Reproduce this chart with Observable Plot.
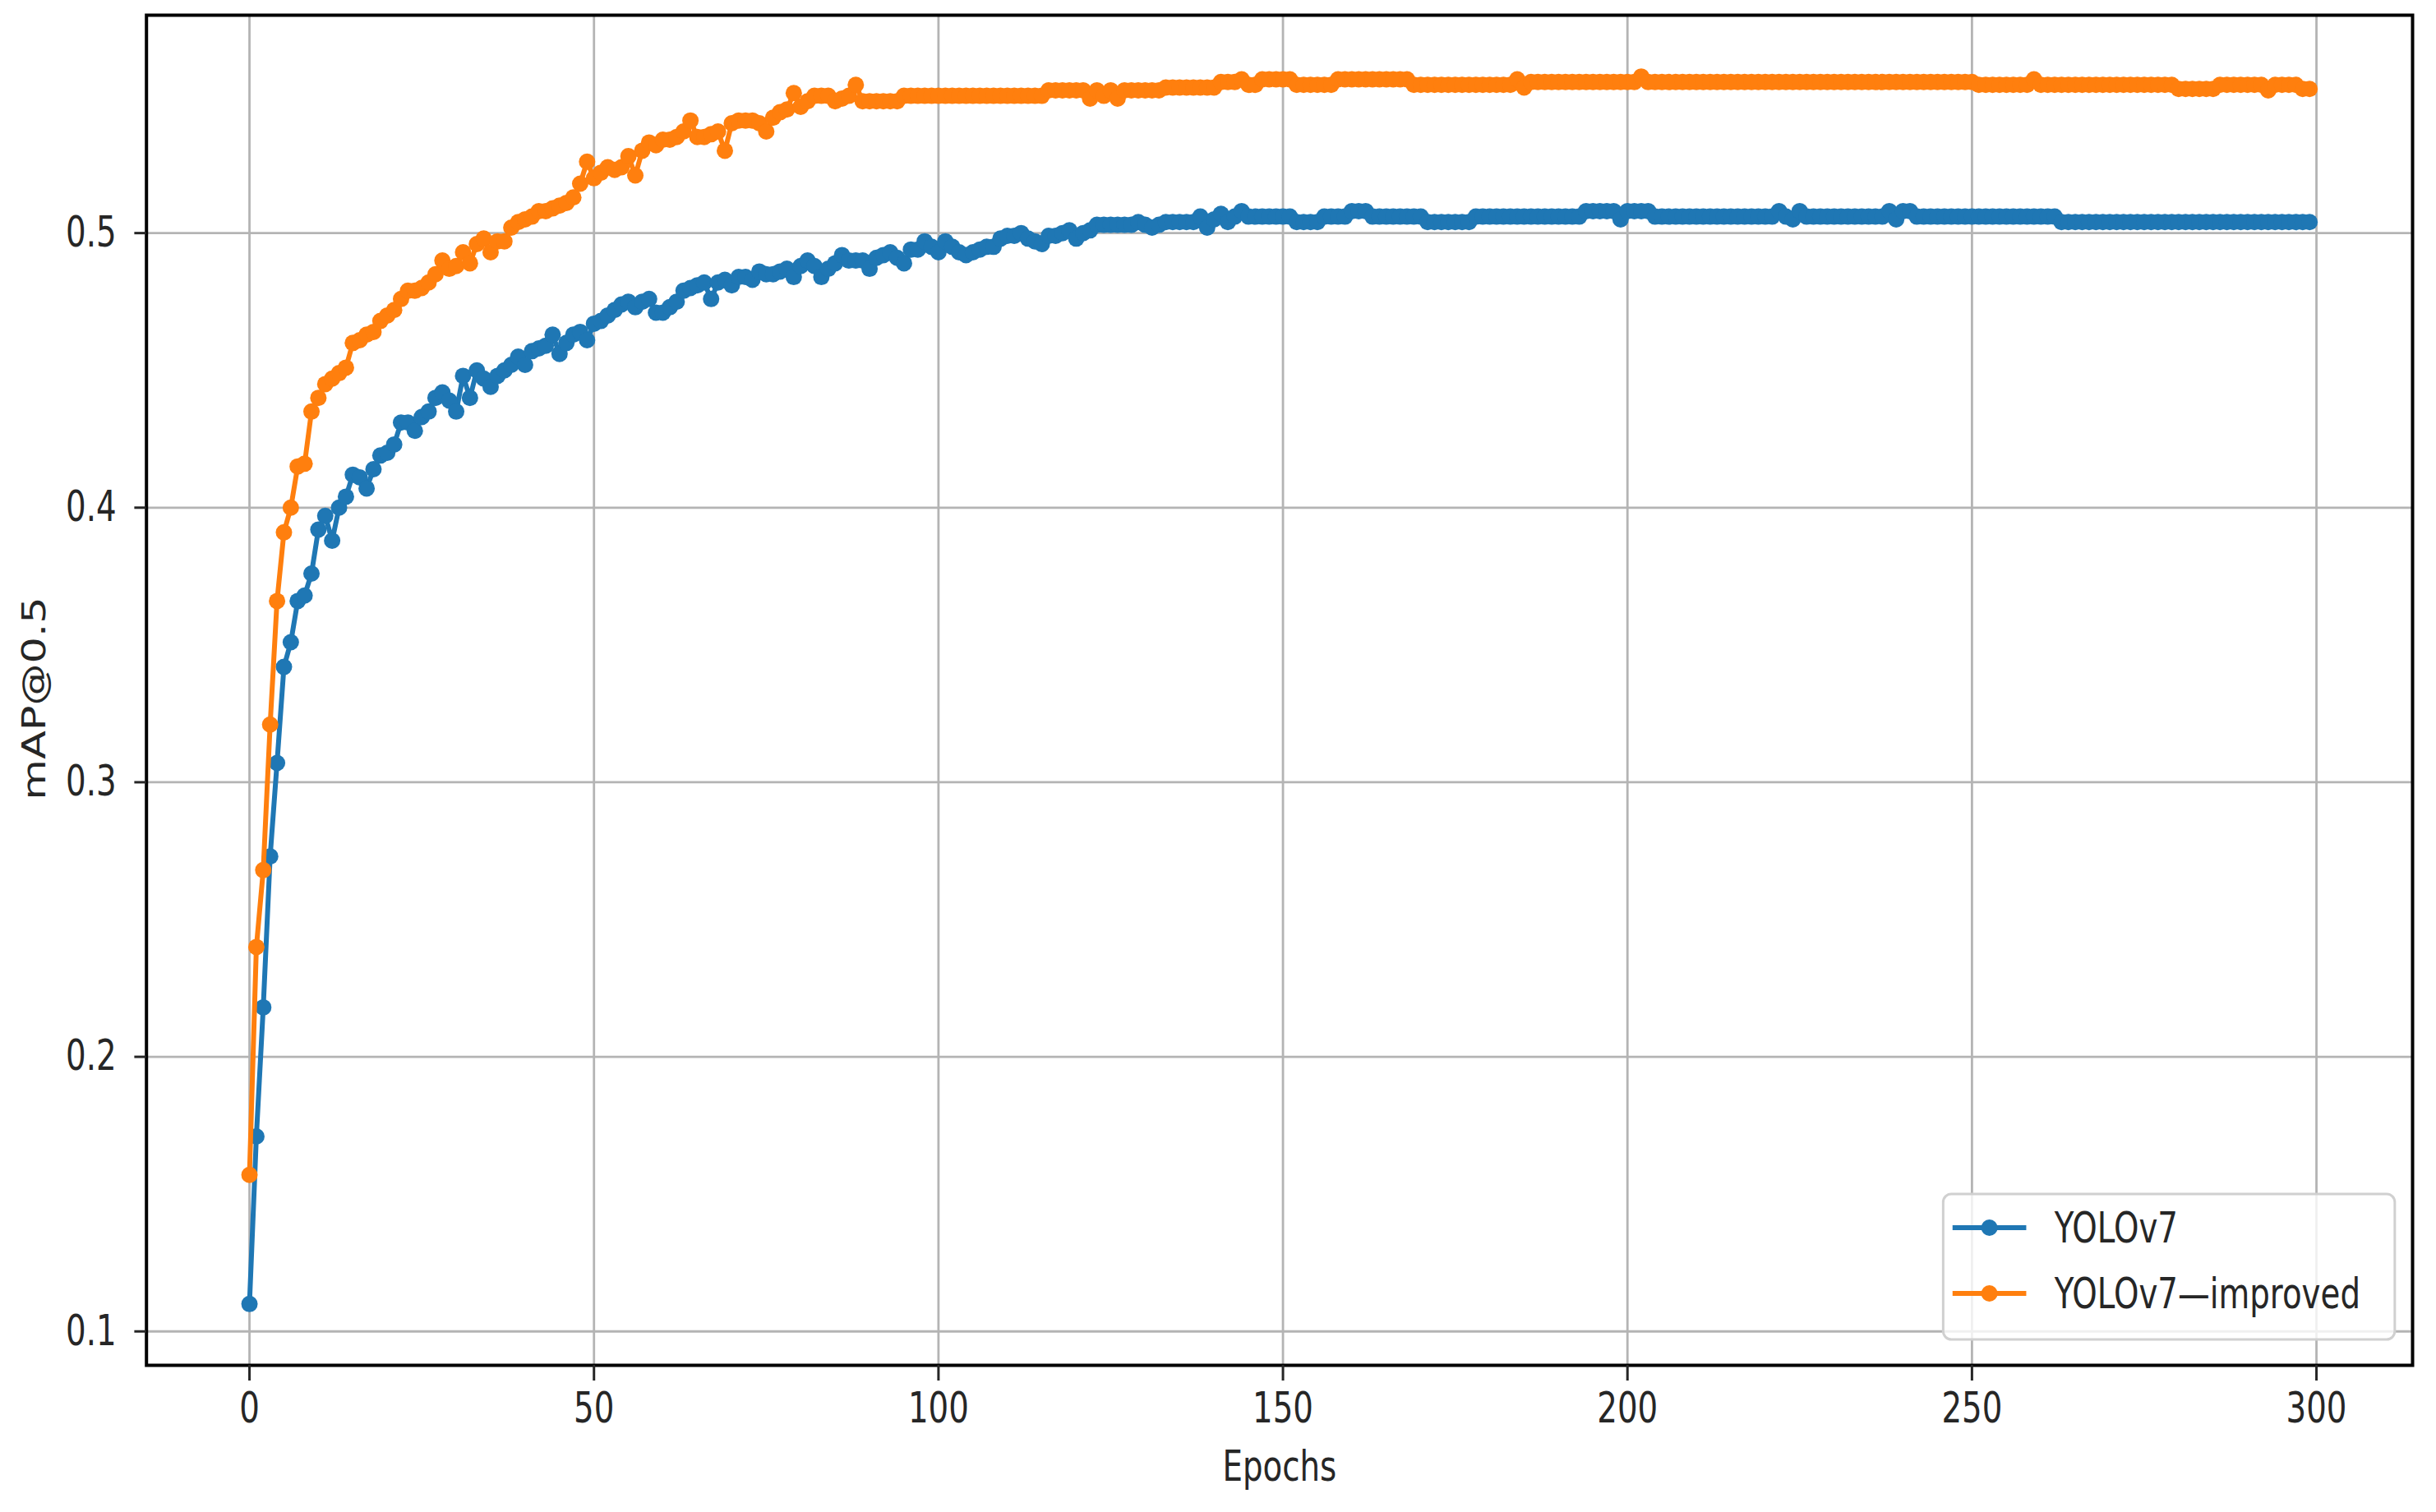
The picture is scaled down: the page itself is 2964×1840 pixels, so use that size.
<!DOCTYPE html>
<html>
<head>
<meta charset="utf-8">
<script src="https://cdn.jsdelivr.net/npm/d3@7"></script>
<script src="https://cdn.jsdelivr.net/npm/@observablehq/plot@0.6"></script>
<style>
  html, body { margin: 0; padding: 0; background: #ffffff; }
  #chart svg line, #chart svg path, #chart svg rect { vector-effect: non-scaling-stroke; }
  /* undo the horizontal squeeze on markers so they stay round, as in the reference */
  #chart svg circle { transform-box: fill-box; transform-origin: center; transform: scaleX(1.316); }
</style>
</head>
<body>
<div id="chart"></div>
<script>
// ---------------- data ----------------
const epochs = d3.range(0, 300);

const yolov7 = [
  0.110,0.171,0.218,0.273,0.307,0.342,0.351,0.366,0.368,0.376,
  0.392,0.397,0.388,0.400,0.404,0.412,0.411,0.407,0.414,0.419,
  0.420,0.423,0.431,0.431,0.428,0.433,0.435,0.440,0.442,0.439,
  0.435,0.448,0.440,0.450,0.447,0.444,0.448,0.450,0.452,0.455,
  0.452,0.457,0.458,0.459,0.463,0.456,0.460,0.463,0.464,0.461,
  0.467,0.468,0.470,0.472,0.474,0.475,0.473,0.475,0.476,0.471,
  0.471,0.473,0.475,0.479,0.480,0.481,0.482,0.476,0.482,0.483,
  0.481,0.484,0.484,0.483,0.486,0.485,0.485,0.486,0.487,0.484,
  0.488,0.490,0.488,0.484,0.487,0.489,0.492,0.490,0.490,0.490,
  0.487,0.491,0.492,0.493,0.491,0.489,0.494,0.494,0.497,0.495,
  0.493,0.497,0.495,0.493,0.492,0.493,0.494,0.495,0.495,0.498,
  0.499,0.499,0.500,0.498,0.497,0.496,0.499,0.499,0.500,0.501,
  0.498,0.500,0.501,0.503,0.503,0.503,0.503,0.503,0.503,0.504,
  0.503,0.502,0.503,0.504,0.504,0.504,0.504,0.504,0.506,0.502,
  0.505,0.507,0.504,0.506,0.508,0.506,0.506,0.506,0.506,0.506,
  0.506,0.506,0.504,0.504,0.504,0.504,0.506,0.506,0.506,0.506,
  0.508,0.508,0.508,0.506,0.506,0.506,0.506,0.506,0.506,0.506,
  0.506,0.504,0.504,0.504,0.504,0.504,0.504,0.504,0.506,0.506,
  0.506,0.506,0.506,0.506,0.506,0.506,0.506,0.506,0.506,0.506,
  0.506,0.506,0.506,0.506,0.508,0.508,0.508,0.508,0.508,0.505,
  0.508,0.508,0.508,0.508,0.506,0.506,0.506,0.506,0.506,0.506,
  0.506,0.506,0.506,0.506,0.506,0.506,0.506,0.506,0.506,0.506,
  0.506,0.506,0.508,0.506,0.505,0.508,0.506,0.506,0.506,0.506,
  0.506,0.506,0.506,0.506,0.506,0.506,0.506,0.506,0.508,0.505,
  0.508,0.508,0.506,0.506,0.506,0.506,0.506,0.506,0.506,0.506,
  0.506,0.506,0.506,0.506,0.506,0.506,0.506,0.506,0.506,0.506,
  0.506,0.506,0.506,0.504,0.504,0.504,0.504,0.504,0.504,0.504,
  0.504,0.504,0.504,0.504,0.504,0.504,0.504,0.504,0.504,0.504,
  0.504,0.504,0.504,0.504,0.504,0.504,0.504,0.504,0.504,0.504,
  0.504,0.504,0.504,0.504,0.504,0.504,0.504,0.504,0.504,0.504
];

const yolov7Improved = [
  0.157,0.240,0.268,0.321,0.366,0.391,0.400,0.415,0.416,0.435,
  0.440,0.445,0.447,0.449,0.451,0.460,0.461,0.463,0.464,0.468,
  0.470,0.472,0.476,0.479,0.479,0.480,0.482,0.485,0.490,0.487,
  0.488,0.493,0.489,0.496,0.498,0.493,0.497,0.497,0.502,0.504,
  0.505,0.506,0.508,0.508,0.509,0.510,0.511,0.513,0.518,0.526,
  0.520,0.522,0.524,0.523,0.524,0.528,0.521,0.530,0.533,0.532,
  0.534,0.534,0.535,0.537,0.541,0.535,0.535,0.536,0.537,0.530,
  0.540,0.541,0.541,0.541,0.540,0.537,0.542,0.544,0.545,0.551,
  0.546,0.548,0.550,0.550,0.550,0.548,0.549,0.550,0.554,0.548,
  0.548,0.548,0.548,0.548,0.548,0.550,0.550,0.550,0.550,0.550,
  0.550,0.550,0.550,0.550,0.550,0.550,0.550,0.550,0.550,0.550,
  0.550,0.550,0.550,0.550,0.550,0.550,0.552,0.552,0.552,0.552,
  0.552,0.552,0.549,0.552,0.550,0.552,0.549,0.552,0.552,0.552,
  0.552,0.552,0.552,0.553,0.553,0.553,0.553,0.553,0.553,0.553,
  0.553,0.555,0.555,0.555,0.556,0.554,0.554,0.556,0.556,0.556,
  0.556,0.556,0.554,0.554,0.554,0.554,0.554,0.554,0.556,0.556,
  0.556,0.556,0.556,0.556,0.556,0.556,0.556,0.556,0.556,0.554,
  0.554,0.554,0.554,0.554,0.554,0.554,0.554,0.554,0.554,0.554,
  0.554,0.554,0.554,0.554,0.556,0.553,0.555,0.555,0.555,0.555,
  0.555,0.555,0.555,0.555,0.555,0.555,0.555,0.555,0.555,0.555,
  0.555,0.555,0.557,0.555,0.555,0.555,0.555,0.555,0.555,0.555,
  0.555,0.555,0.555,0.555,0.555,0.555,0.555,0.555,0.555,0.555,
  0.555,0.555,0.555,0.555,0.555,0.555,0.555,0.555,0.555,0.555,
  0.555,0.555,0.555,0.555,0.555,0.555,0.555,0.555,0.555,0.555,
  0.555,0.555,0.555,0.555,0.555,0.555,0.555,0.555,0.555,0.555,
  0.555,0.554,0.554,0.554,0.554,0.554,0.554,0.554,0.554,0.556,
  0.554,0.554,0.554,0.554,0.554,0.554,0.554,0.554,0.554,0.554,
  0.554,0.554,0.554,0.554,0.554,0.554,0.554,0.554,0.554,0.554,
  0.5525,0.5525,0.5525,0.5525,0.5525,0.5525,0.554,0.554,0.554,0.554,
  0.554,0.554,0.554,0.552,0.554,0.554,0.554,0.554,0.5525,0.5525
];

const seriesNames = ["YOLOv7", "YOLOv7\u2014improved"];
const seriesColors = ["#1f77b4", "#ff7f0e"];
const seriesValues = [yolov7, yolov7Improved];

const xTicks = [0, 50, 100, 150, 200, 250, 300];
const yTicks = [0.1, 0.2, 0.3, 0.4, 0.5];
const xLabel = "Epochs";
const yLabel = "mAP@0.5";

// ---------------- layout ----------------
const OUT_W = 2964, OUT_H = 1840;
const SQUEEZE = 0.76;                 // reference figure is horizontally compressed
const W = Math.round(OUT_W / SQUEEZE);
const M = {left: 234, right: 38, top: 18, bottom: 179};
const FONT = 51;
const LINE_W = 6;
const DOT_R = 10;

// long table built from the named arrays
const data = seriesNames.flatMap((name, s) =>
  epochs.map((e, i) => ({series: name, epoch: e, value: seriesValues[s][i]})));

// matplotlib-like 5% margins
const padExtent = (arr) => {
  const [a, b] = d3.extent(arr);
  const p = (b - a) * 0.05;
  return [a - p, b + p];
};
const xDomain = padExtent(epochs);
const yDomain = padExtent(data.map(d => d.value));

const seriesMarks = seriesNames.flatMap((name) => {
  const rows = data.filter(d => d.series === name);
  return [
    Plot.line(rows, {x: "epoch", y: "value", stroke: "series", strokeWidth: LINE_W}),
    Plot.dot(rows, {x: "epoch", y: "value", fill: "series", r: DOT_R})
  ];
});

const chart = Plot.plot({
  width: W,
  height: OUT_H,
  marginLeft: M.left,
  marginRight: M.right,
  marginTop: M.top,
  marginBottom: M.bottom,
  style: {fontFamily: "'DejaVu Sans', sans-serif", fontSize: FONT + "px", color: "#262626", background: "#ffffff", overflow: "visible"},
  x: {domain: xDomain},
  y: {domain: yDomain},
  color: {domain: seriesNames, range: seriesColors},
  marks: [
    Plot.gridX(xTicks, {stroke: "#b4b4b4", strokeOpacity: 1, strokeWidth: 2.8}),
    Plot.gridY(yTicks, {stroke: "#b4b4b4", strokeOpacity: 1, strokeWidth: 2.8}),
    ...seriesMarks,
    Plot.frame({stroke: "#000000", strokeWidth: 4}),
    Plot.axisX({ticks: xTicks, tickSize: 19, tickPadding: 14, strokeWidth: 3, label: null, fontSize: FONT}),
    Plot.axisY({ticks: yTicks, tickSize: 19, tickPadding: 29, strokeWidth: 3, label: null, fontSize: FONT, tickFormat: d3.format(".1f")}),
    Plot.text([xLabel], {text: d => d, frameAnchor: "bottom", textAnchor: "middle", dy: 140, fontSize: FONT, fill: "#262626"}),
    Plot.text([yLabel], {text: d => d, frameAnchor: "left", textAnchor: "middle", dx: -179, dy: 10, rotate: -90, fontSize: FONT, fill: "#262626"})
  ]
});

// squeeze horizontally like the reference image
chart.setAttribute("width", OUT_W);
chart.setAttribute("height", OUT_H);
chart.setAttribute("preserveAspectRatio", "none");
chart.style.width = OUT_W + "px";
chart.style.height = OUT_H + "px";
chart.style.maxWidth = "none";

// legend (lower right, inside the axes)
const frameRight = W - M.right, frameBottom = OUT_H - M.bottom;
const boxW = 723, boxH = 177;
const boxX = frameRight - 28 - boxW, boxY = frameBottom - 31 - boxH;
const leg = d3.select(chart).append("g").attr("class", "legend");
leg.append("rect")
  .attr("x", boxX).attr("y", boxY).attr("width", boxW).attr("height", boxH)
  .attr("rx", 13).attr("ry", 10)
  .attr("fill", "#ffffff").attr("fill-opacity", 0.8)
  .attr("stroke", "#d0d0d0").attr("stroke-width", 3);
seriesNames.forEach((name, i) => {
  const cy = boxY + 41 + i * 80;
  const x0 = boxX + 15;
  leg.append("line")
    .attr("x1", x0).attr("x2", x0 + 118).attr("y1", cy).attr("y2", cy)
    .attr("stroke", seriesColors[i]).attr("stroke-width", LINE_W);
  leg.append("circle")
    .attr("cx", x0 + 59).attr("cy", cy).attr("r", DOT_R)
    .attr("fill", seriesColors[i]);
  leg.append("text")
    .attr("x", x0 + 163).attr("y", cy).attr("dy", "0.35em")
    .attr("text-anchor", "start")
    .attr("font-family", "'DejaVu Sans', sans-serif")
    .attr("font-size", FONT).attr("fill", "#262626")
    .text(name);
});

document.getElementById("chart").appendChild(chart);
</script>
</body>
</html>
